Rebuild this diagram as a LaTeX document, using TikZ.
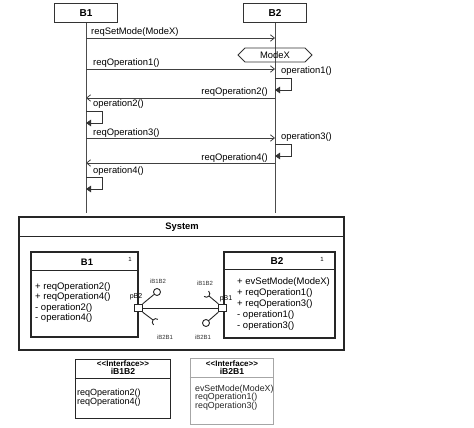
\documentclass[tikz,border=0pt]{standalone}
\usepackage{fontspec}
\setmainfont{Liberation Sans}
\usepackage{tikz}
\usetikzlibrary{positioning, shapes, arrows, arrows.meta}

\begin{document}
\begin{tikzpicture}[x=1pt, y=-1pt,
  head/.style={draw=black!80, line width=1pt, minimum width=63pt, minimum height=19pt, inner sep=0pt, font=\fontsize{10}{12}\selectfont\bfseries},
  life/.style={draw=black!70, line width=0.8pt},
  msg/.style={-{Straight Barb[length=4pt, width=6.5pt]}, draw=black!75, line width=0.8pt},
  selfcall/.style={-{Triangle[length=5pt, width=6.5pt]}, draw=black!80, line width=0.8pt},
  lbl/.style={inner sep=0pt, font=\fontsize{9.4}{11}\selectfont},
  frame/.style={draw=black!85, line width=1.2pt, inner sep=0pt},
  title/.style={inner sep=0pt, font=\fontsize{9.4}{11}\selectfont\bfseries},
  ops/.style={inner sep=0pt, align=left, anchor=west},
  mult/.style={inner sep=0pt, font=\fontsize{6}{7}\selectfont},
  port/.style={draw=black!85, line width=0.9pt, fill=white, minimum size=7.5pt, inner sep=0pt},
  ball/.style={circle, draw=black!85, line width=0.9pt, minimum size=7pt, inner sep=0pt},
  plbl/.style={inner sep=0pt, font=\fontsize{7}{8}\selectfont},
  ilbl/.style={inner sep=0pt, font=\fontsize{6}{7}\selectfont, text=black!80}
]
\useasboundingbox (0,0) rectangle (474,428);

\node[head] (B1) at (86,13.5) {B1};
\node[head] (B2) at (275,13.5) {B2};
\coordinate (B1end) at (86,213);
\coordinate (B2end) at (275,213);
\draw[life] (B1.south) -- (B1end);
\draw[life] (B2.south) -- (B2end);

\coordinate (a1) at (86,38);
\coordinate (b1) at (275,38);
\draw[msg] (a1) -- (b1);
\node[lbl, anchor=west] (m1) at (91,32) {reqSetMode(ModeX)};

\node[draw=black!80, line width=0.8pt, signal, signal to=east and west, minimum width=74pt, minimum height=14pt, inner sep=0pt, font=\fontsize{9.4}{11}\selectfont] (modex) at (275,55) {ModeX};

\coordinate (a2) at (86,69);
\coordinate (b2) at (275,69);
\draw[msg] (a2) -- (b2);
\node[lbl, anchor=west] (m2) at (93,63) {reqOperation1()};

\coordinate (s1a) at (275,78);
\coordinate (s1b) at (275,90);
\draw[selfcall] (s1a) -- ++(16,0) |- (s1b);
\node[lbl, anchor=west] (o1) at (281,71) {operation1()};

\coordinate (a3) at (86,98);
\coordinate (b3) at (275,98);
\draw[msg] (b3) -- (a3);
\node[lbl, anchor=east] (m3) at (268,92) {reqOperation2()};

\coordinate (s2a) at (86,111);
\coordinate (s2b) at (86,123);
\draw[selfcall] (s2a) -- ++(16,0) |- (s2b);
\node[lbl, anchor=west] (o2) at (93,104) {operation2()};

\coordinate (a4) at (86,138);
\coordinate (b4) at (275,138);
\draw[msg] (a4) -- (b4);
\node[lbl, anchor=west] (m4) at (93,133) {reqOperation3()};

\coordinate (s3a) at (275,144);
\coordinate (s3b) at (275,156);
\draw[selfcall] (s3a) -- ++(16,0) |- (s3b);
\node[lbl, anchor=west] (o3) at (281,137) {operation3()};

\coordinate (a5) at (86,163);
\coordinate (b5) at (275,163);
\draw[msg] (b5) -- (a5);
\node[lbl, anchor=east] (m5) at (268,158) {reqOperation4()};

\coordinate (s4a) at (86,177);
\coordinate (s4b) at (86,189);
\draw[selfcall] (s4a) -- ++(16,0) |- (s4b);
\node[lbl, anchor=west] (o4) at (93,171) {operation4()};

\node[frame, minimum width=325pt, minimum height=133pt] (sys) at (181.5,283.5) {};
\draw[frame] ([yshift=-20pt]sys.north west) -- ([yshift=-20pt]sys.north east);
\node[title] (systitle) at (182,227) {System};

\node[frame, minimum width=107pt, minimum height=85pt] (blk1) at (84.5,294.5) {};
\draw[frame] ([yshift=-19pt]blk1.north west) -- ([yshift=-19pt]blk1.north east);
\node[title] (blk1title) at (87,262) {B1};
\node[mult] (blk1mult) at (130,259) {1};
\node[ops, font=\fontsize{9.5}{10.2}\selectfont] (blk1ops) at (35,302.5) {+ reqOperation2()\\+ reqOperation4()\\- operation2()\\- operation4()};

\node[frame, minimum width=111pt, minimum height=86pt] (blk2) at (279.5,295) {};
\draw[frame] ([yshift=-18pt]blk2.north west) -- ([yshift=-18pt]blk2.north east);
\node[title, font=\fontsize{10}{12}\selectfont\bfseries] (blk2title) at (277,261) {B2};
\node[mult] (blk2mult) at (322,259) {1};
\node[ops, font=\fontsize{9.5}{11.2}\selectfont] (blk2ops) at (237,304) {+ evSetMode(ModeX)\\+ reqOperation1()\\+ reqOperation3()\\- operation1()\\- operation3()};

\node[port] (pB2) at (138.5,308) {};
\node[port] (pB1) at (222.5,308) {};
\draw[draw=black!85, line width=0.9pt] (pB2) -- (pB1);
\node[plbl] (pB2lbl) at (136,297) {pB2};
\node[plbl] (pB1lbl) at (226,299) {pB1};

\node[ball] (ball1) at (157,292) {};
\draw[draw=black!85, line width=0.9pt] (pB2.north east) -- (ball1);
\coordinate (sk1) at (153,320);
\coordinate (c1) at ([shift={(-37.5:3.5pt)}]sk1);
\draw[draw=black!85, line width=0.9pt] (pB2.south east) -- (sk1);
\draw[draw=black!85, line width=0.9pt] ([shift={(52.5:3.5pt)}]c1) arc[start angle=52.5, end angle=232.5, radius=3.5pt];

\node[ball] (ball2) at (206,323) {};
\draw[draw=black!85, line width=0.9pt] (pB1.south west) -- (ball2);
\coordinate (sk2) at (209,296);
\coordinate (c2) at ([shift={(139.8:3.5pt)}]sk2);
\draw[draw=black!85, line width=0.9pt] (pB1.north west) -- (sk2);
\draw[draw=black!85, line width=0.9pt] ([shift={(229.8:3.5pt)}]c2) arc[start angle=229.8, end angle=409.8, radius=3.5pt];

\node[ilbl] (i1) at (158,281) {iB1B2};
\node[ilbl] (i2) at (205,283) {iB1B2};
\node[ilbl] (i3) at (165,337) {iB2B1};
\node[ilbl] (i4) at (203,337) {iB2B1};

\node[draw=black!85, line width=1pt, minimum width=95pt, minimum height=59pt, inner sep=0pt] (if1) at (122.5,388.5) {};
\draw[draw=black!85, line width=1pt] ([yshift=-20pt]if1.north west) -- ([yshift=-20pt]if1.north east);
\node[title, font=\fontsize{8}{9}\selectfont\bfseries] (if1st) at (123,364) {<\kern0pt<Interface>\kern0pt>};
\node[title, font=\fontsize{8.6}{10}\selectfont\bfseries] (if1name) at (123,371.5) {iB1B2};
\node[ops, font=\fontsize{9}{9.2}\selectfont] (if1ops) at (77,397.5) {reqOperation2()\\reqOperation4()};

\node[draw=black!35, line width=1pt, minimum width=83pt, minimum height=66pt, inner sep=0pt] (if2) at (231.5,391) {};
\draw[draw=black!35, line width=1pt] ([yshift=-20pt]if2.north west) -- ([yshift=-20pt]if2.north east);
\node[title, font=\fontsize{8}{9}\selectfont\bfseries] (if2st) at (232,364) {<\kern0pt<Interface>\kern0pt>};
\node[title, font=\fontsize{8.6}{10}\selectfont\bfseries] (if2name) at (232,371.5) {iB2B1};
\node[ops, font=\fontsize{8.8}{8.6}\selectfont, text=black!85] (if2ops) at (195,397.5) {evSetMode(ModeX)\\reqOperation1()\\reqOperation3()};
\end{tikzpicture}
\end{document}
